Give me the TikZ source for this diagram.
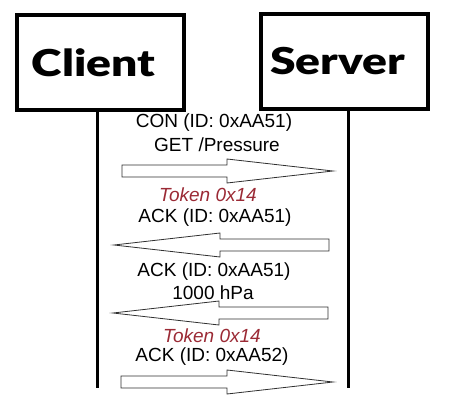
\documentclass[tikz,border=0pt]{standalone}
\usepackage{fontspec}
\setmainfont{Liberation Sans}
\newfontfamily\headfont{Lato}[UprightFont=*-Black,FakeStretch=1.25]
\usepackage{tikz}
\usetikzlibrary{calc}
\usepackage{xcolor}
\definecolor{TokenRed}{HTML}{9B2A35}
\definecolor{ArrowGray}{HTML}{303030}

% hollow block arrow from tail #1 to tip #2, direction #3 (1 = right, -1 = left)
\newcommand{\msgarrow}[3]{%
    \draw[msgarrow] ($(#1)+(0,-6)$) -- ($(#2)+(-106*#3,-6)$) -- ($(#2)+(-106*#3,-12)$)
        -- (#2) -- ($(#2)+(-106*#3,12)$) -- ($(#2)+(-106*#3,6)$) -- ($(#1)+(0,6)$) -- cycle;
}

\begin{document}
\begin{tikzpicture}[x=1pt,y=-1pt,
    actor/.style={draw,line width=4pt,inner sep=0pt,minimum width=167pt,minimum height=95pt,
        font=\headfont\fontsize{37}{37}\selectfont},
    lifeline/.style={line width=3pt},
    msgarrow/.style={draw=ArrowGray,line width=0.8pt,fill=white,line join=miter},
    msg/.style={inner sep=0pt,font=\fontsize{19}{19}\selectfont},
    token/.style={msg,text=TokenRed,font=\itshape\fontsize{19}{19}\selectfont}]
    \useasboundingbox (0,0) rectangle (474,404);

    \node[actor] (client) at (100.5,62.5) {\hspace*{-14pt}Client};
    \node[actor] (server) at (344.5,61.5) {Server\hspace*{14pt}};
    \coordinate (clientend) at (97.5,388);
    \coordinate (serverend) at (348,388);
    \draw[lifeline] (client.south -| clientend) -- (clientend);
    \draw[lifeline] (server.south -| serverend) -- (serverend);

    % request
    \node[msg] (con) at (214,123) {CON (ID: 0xAA51)};
    \node[msg] (get) at (217,145) {GET /Pressure};
    \coordinate (a1tail) at (122,171);
    \coordinate (a1tip) at (333,171);
    \msgarrow{a1tail}{a1tip}{1}
    \node[token] (tok1) at (208,195) {Token 0x14};

    % empty ack
    \node[msg] (ack1) at (215,218) {ACK (ID: 0xAA51)};
    \coordinate (a2tail) at (329,245);
    \coordinate (a2tip) at (114,245);
    \msgarrow{a2tail}{a2tip}{-1}

    % response
    \node[msg] (ack2) at (214,272) {ACK (ID: 0xAA51)};
    \node[msg] (val) at (213,293) {1000 hPa};
    \coordinate (a3tail) at (328,313);
    \coordinate (a3tip) at (113,313);
    \msgarrow{a3tail}{a3tip}{-1}
    \node[token] (tok2) at (212,336) {Token 0x14};

    % ack of response
    \node[msg] (ack3) at (212,357) {ACK (ID: 0xAA52)};
    \coordinate (a4tail) at (121,382);
    \coordinate (a4tip) at (333,382);
    \msgarrow{a4tail}{a4tip}{1}
\end{tikzpicture}
\end{document}
